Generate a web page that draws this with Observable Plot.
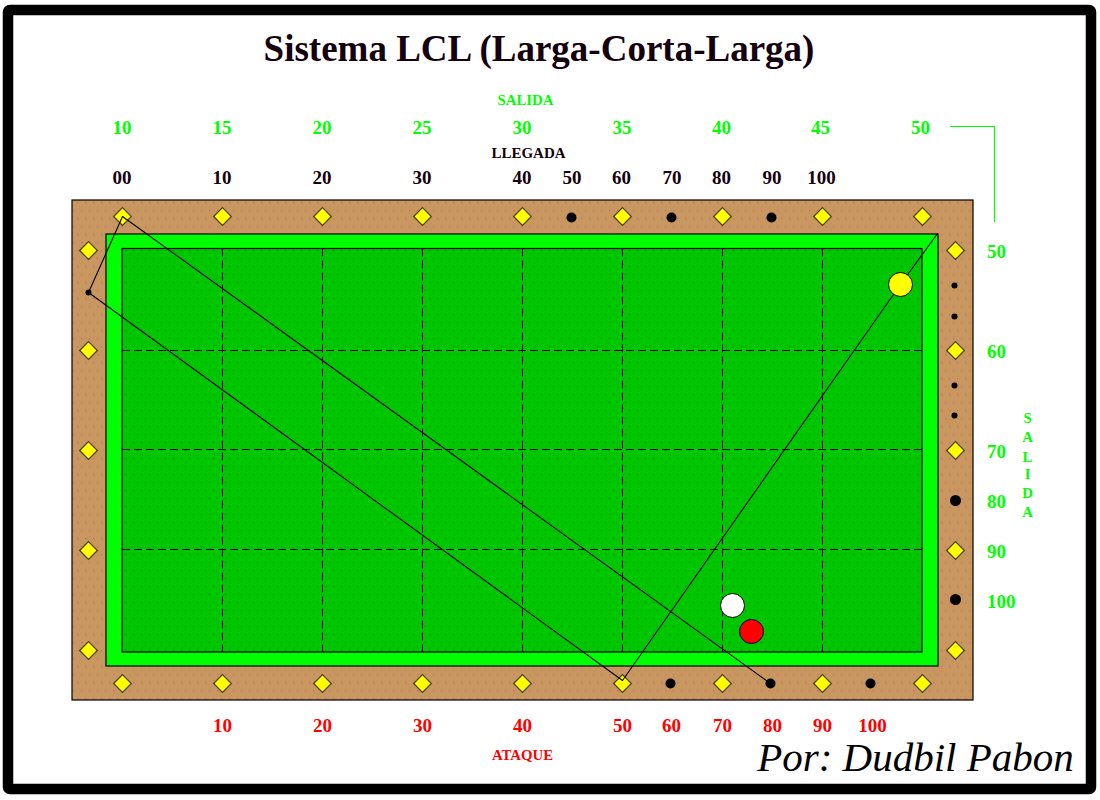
<!DOCTYPE html>
<html lang="es">
<head>
<meta charset="utf-8">
<title>Sistema LCL</title>
<script src="https://cdn.jsdelivr.net/npm/d3@7"></script>
<script src="https://cdn.jsdelivr.net/npm/@observablehq/plot@0.6"></script>
<style>
html,body{margin:0;padding:0;background:#fff}
svg{display:block}
</style>
</head>
<body>
<div id="chart"></div>
<script>
// Table units: x 0..80 along the felt, y 50..90 down the felt.
const titleText = "Sistema LCL (Larga-Corta-Larga)";
const authorText = "Por: Dudbil Pabon";

const diamondX = [0, 10, 20, 30, 40, 50, 60, 70, 80];
const diamondY = [50, 60, 70, 80, 90];
const railTopY = 46.6, railBottomY = 93.3, railLeftX = -3.4, railRightX = 83.3;

const gridX = [10, 20, 30, 40, 50, 60, 70];
const gridY = [60, 69.9, 79.9];

const topDotsX = [44.9, 54.9, 64.9];
const bottomDotsX = [54.8, 64.8, 74.8];
const rightSmallY = [53.5, 56.6, 63.5, 66.5];
const rightBigY = [75, 84.9];

const shotX = [81.5, 77.8, 50, -3.4, 0, 64.8];
const shotY = [48.3, 53.4, 93, 54.2, 46.6, 93.3];

const ballX = [77.8, 61, 62.9];
const ballY = [53.4, 85.5, 88.1];
const ballColor = ["#ffff00", "#ffffff", "#ff0000"];

const salidaTop = ["10", "15", "20", "25", "30", "35", "40", "45", "50"];
const salidaTopX = [-0.05, 9.95, 19.95, 29.95, 39.95, 49.95, 59.9, 69.8, 79.8];
const llegada = ["00", "10", "20", "30", "40", "50", "60", "70", "80", "90", "100"];
const llegadaX = [-0.05, 9.95, 19.95, 29.95, 39.95, 44.95, 49.9, 54.95, 59.9, 64.95, 69.9];
const ataque = ["10", "20", "30", "40", "50", "60", "70", "80", "90", "100"];
const ataqueX = [10, 20, 30, 40, 50, 54.9, 60, 65, 70, 75];
const salidaRight = ["50", "60", "70", "80", "90", "100"];
const salidaRightY = [50, 60, 70, 75, 80, 85];
const salidaLetters = ["S", "A", "L", "I", "D", "A"];
const salidaLettersY = [66.8, 68.7, 70.7, 72.4, 74.3, 76.2];

const bracketX = [82.8, 87.2, 87.2];
const bracketY = [37.6, 37.6, 47.1];

const serif = "Liberation Serif";
const tbl = (xs, ys, ts) => xs.map((x, i) => ({x, y: ys[i], t: ts ? ts[i] : null}));
const along = (xs, y) => xs.map(x => ({x, y}));
const down = (x, ys) => ys.map(y => ({x, y}));
const numbers = (rows, fill, size = 19, extra = {}) =>
  Plot.text(rows, {x: "x", y: "y", text: "t", fill, fontFamily: serif, fontWeight: "bold", fontSize: size, ...extra});

const defs = () => {
  const ns = "http://www.w3.org/2000/svg";
  const d = document.createElementNS(ns, "defs");
  d.innerHTML = `
    <pattern id="railDots" width="8" height="16" patternUnits="userSpaceOnUse">
      <rect width="8" height="16" fill="#c8965f"/>
      <rect x="1" y="2" width="1.3" height="1.3" fill="#cf6a7c"/>
      <rect x="5" y="10" width="1.3" height="1.3" fill="#cf6a7c"/>
    </pattern>
    <pattern id="feltDots" width="8" height="16" patternUnits="userSpaceOnUse">
      <rect width="8" height="16" fill="#00c600"/>
      <rect x="1" y="2" width="1.2" height="1.2" fill="#009a00"/>
      <rect x="5" y="10" width="1.2" height="1.2" fill="#009a00"/>
    </pattern>`;
  return d;
};

const plot = Plot.plot({
  width: 1100, height: 800,
  marginTop: 0, marginRight: 0, marginBottom: 0, marginLeft: 0,
  x: {domain: [-12.2, 97.8], range: [0, 1100], axis: null},
  y: {domain: [25, 105], range: [0, 800], axis: null},
  style: {background: "#fff"},
  marks: [
    defs,
    // page frame
    Plot.rect([{x1: -11.4, x2: 96.9, y1: 26, y2: 103.9}],
      {x1: "x1", x2: "x2", y1: "y1", y2: "y2", fill: "none", stroke: "#000", strokeWidth: 10.5, rx: 2}),
    // table
    Plot.rect([{x1: -5, x2: 85.1, y1: 45, y2: 95}],
      {x1: "x1", x2: "x2", y1: "y1", y2: "y2", fill: "url(#railDots)", stroke: "#000", strokeWidth: 1.2}),
    Plot.rect([{x1: -1.6, x2: 81.6, y1: 48.4, y2: 91.6}],
      {x1: "x1", x2: "x2", y1: "y1", y2: "y2", fill: "#00ff00", stroke: "#000", strokeWidth: 1.2}),
    Plot.rect([{x1: 0, x2: 80, y1: 49.85, y2: 90.2}],
      {x1: "x1", x2: "x2", y1: "y1", y2: "y2", fill: "url(#feltDots)", stroke: "#000", strokeWidth: 1.2}),
    // grid
    Plot.ruleX(gridX, {y1: 49.85, y2: 90.2, stroke: "#000", strokeWidth: 1, strokeDasharray: "8,4"}),
    Plot.ruleY(gridY, {x1: 0, x2: 80, stroke: "#000", strokeWidth: 1, strokeDasharray: "8,4"}),
    // diamonds
    ...[along(diamondX, railTopY), along(diamondX, railBottomY), down(railLeftX, diamondY), down(railRightX, diamondY)].map(rows =>
      Plot.dot(rows, {x: "x", y: "y", symbol: "diamond2", r: 8, fill: "#ffff00", stroke: "#4a3a10", strokeWidth: 1.2})),
    // rail dots
    Plot.dot(along(topDotsX, 46.7), {x: "x", y: "y", r: 5, fill: "#000"}),
    Plot.dot(along(bottomDotsX, 93.3), {x: "x", y: "y", r: 5, fill: "#000"}),
    Plot.dot(down(83.2, rightSmallY), {x: "x", y: "y", r: 3, fill: "#000"}),
    Plot.dot(down(83.3, rightBigY), {x: "x", y: "y", r: 5.5, fill: "#000"}),
    Plot.dot([{x: -3.4, y: 54.2}], {x: "x", y: "y", r: 3, fill: "#000"}),
    // shot path
    Plot.line(tbl(shotX, shotY), {x: "x", y: "y", stroke: "#000", strokeWidth: 1.1, curve: "linear"}),
    // balls
    Plot.dot(tbl(ballX, ballY, ballColor), {x: "x", y: "y", r: 12, fill: d => d.t, stroke: "#000", strokeWidth: 1}),
    // bracket
    Plot.line(tbl(bracketX, bracketY), {x: "x", y: "y", stroke: "#00ff00", strokeWidth: 1.2}),
    // texts
    numbers([{x: 41.65, y: 29.85, t: titleText}], "#14000f", 37),
    numbers([{x: 40.3, y: 35, t: "SALIDA"}], "#00ff00", 14.8),
    numbers(tbl(salidaTopX, salidaTopX.map(() => 37.7), salidaTop), "#00ff00"),
    numbers([{x: 40.6, y: 40.3, t: "LLEGADA"}], "#14000f", 15),
    numbers(tbl(llegadaX, llegadaX.map(() => 42.7), llegada), "#14000f"),
    numbers(tbl(ataqueX, ataqueX.map(() => 97.5), ataque), "#ff0000"),
    numbers([{x: 40, y: 100.45, t: "ATAQUE"}], "#ff0000", 14.8),
    numbers(tbl(salidaRight.map(() => 86.45), salidaRightY.map(y => y + 0.1), salidaRight), "#00ff00", 19, {textAnchor: "start"}),
    numbers(tbl(salidaLetters.map(() => 90.5), salidaLettersY, salidaLetters), "#00ff00", 14.8),
    Plot.text([{x: 79.3, y: 100.7, t: authorText}], {x: "x", y: "y", text: "t", fill: "#000", fontFamily: serif, fontStyle: "italic", fontSize: 41})
  ]
});
document.getElementById("chart").appendChild(plot);
</script>
</body>
</html>
